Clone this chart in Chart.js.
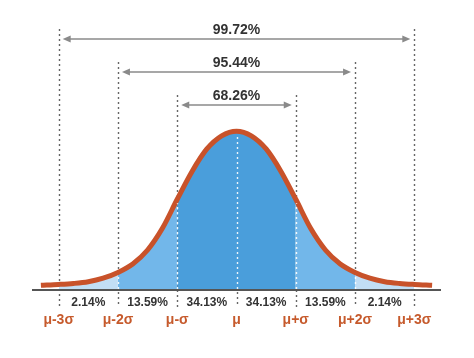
<!DOCTYPE html>
<html><head><meta charset="utf-8">
<script src="https://cdn.jsdelivr.net/npm/chart.js@4"></script>
<style>html,body{margin:0;padding:0;background:#fff}</style>
</head><body>
<canvas id="c" width="474" height="358"></canvas>
<script>
// ---- data ----
const sigmaPositions = [-3, -2, -1, 0, 1, 2, 3];
const sigmaLabels = ['μ-3σ', 'μ-2σ', 'μ-σ', 'μ', 'μ+σ', 'μ+2σ', 'μ+3σ'];
const bandPercents = ['2.14%', '13.59%', '34.13%', '34.13%', '13.59%', '2.14%'];
const spanSigmas = [3, 2, 1];
const spanLabels = ['99.72%', '95.44%', '68.26%'];
const curveX = [-3.3, -3, -2.75, -2.5, -2.25, -2, -1.75, -1.5, -1.25, -1, -0.75, -0.5, -0.25, 0,
                0.25, 0.5, 0.75, 1, 1.25, 1.5, 1.75, 2, 2.25, 2.5, 2.75, 3, 3.3];
const curveHeights = [0.1, 0.3, 0.55, 1.0, 1.9, 3.4, 5.6, 9.2, 14.8, 22.3, 29.5, 35.3, 38.7, 39.9,
                      38.7, 35.3, 29.5, 22.3, 14.8, 9.2, 5.6, 3.4, 1.9, 1.0, 0.55, 0.3, 0.1];
const bandRanges = [[-3, -2], [-2, -1], [-1, 1], [1, 2], [2, 3]];

// ---- build ----
const curvePts = curveX.map((x, i) => ({x, y: curveHeights[i]}));
function bandColor(lo, hi) {
  const d = Math.max(Math.abs(lo), Math.abs(hi));
  if (d <= 1) return '#4a9edb';
  if (d <= 2) return '#72b7ea';
  return '#c2def5';
}
const datasets = [{
  data: curvePts, borderColor: '#c8522a', borderWidth: 5, pointRadius: 0,
  fill: false, cubicInterpolationMode: 'monotone', borderCapStyle: 'butt', clip: false
}];
bandRanges.forEach(([lo, hi]) => {
  datasets.push({
    data: curvePts.filter(p => p.x >= lo - 1e-9 && p.x <= hi + 1e-9),
    borderWidth: 0, borderColor: 'rgba(0,0,0,0)', pointRadius: 0,
    backgroundColor: bandColor(lo, hi), fill: 'start', cubicInterpolationMode: 'monotone'
  });
});

function heightAt(s) { const i = curveX.indexOf(s); return curveHeights[i]; }

const ARROW_Y = {3: 39, 2: 72, 1: 105};
const FONT = '"Liberation Sans", Arial, sans-serif';

function arrow(ctx, x1, x2, y) {
  ctx.beginPath(); ctx.moveTo(x1 + 5, y); ctx.lineTo(x2 - 5, y); ctx.stroke();
  ctx.beginPath(); ctx.moveTo(x1, y); ctx.lineTo(x1 + 8, y - 3.5); ctx.lineTo(x1 + 8, y + 3.5); ctx.closePath(); ctx.fill();
  ctx.beginPath(); ctx.moveTo(x2, y); ctx.lineTo(x2 - 8, y - 3.5); ctx.lineTo(x2 - 8, y + 3.5); ctx.closePath(); ctx.fill();
}

const annot = {
  id: 'annot',
  beforeDatasetsDraw(chart) {
    const {ctx, scales: {x}, chartArea} = chart;
    ctx.save();
    ctx.strokeStyle = '#666'; ctx.lineWidth = 1.4; ctx.setLineDash([2, 3]);
    sigmaPositions.forEach(s => {
      const px = Math.round(x.getPixelForValue(s)) + 0.5;
      const top = s === 0 ? chartArea.bottom + 2 : ARROW_Y[Math.abs(s)] - 10;
      ctx.beginPath(); ctx.moveTo(px, top); ctx.lineTo(px, chartArea.bottom + 17); ctx.stroke();
    });
    ctx.restore();
  },
  afterDatasetsDraw(chart) {
    const {ctx, scales: {x, y}, chartArea} = chart;
    ctx.save();
    // white dotted lines inside the filled area
    ctx.strokeStyle = 'rgba(255,255,255,0.9)'; ctx.lineWidth = 1.4; ctx.setLineDash([2, 3]);
    sigmaPositions.forEach(s => {
      const px = Math.round(x.getPixelForValue(s)) + 0.5;
      const cy = y.getPixelForValue(heightAt(s)) + 4;
      if (cy < chartArea.bottom - 2) {
        ctx.beginPath(); ctx.moveTo(px, chartArea.bottom - 1); ctx.lineTo(px, cy); ctx.stroke();
      }
    });
    ctx.setLineDash([]);
    // axis
    ctx.strokeStyle = '#555'; ctx.lineWidth = 2;
    ctx.beginPath(); ctx.moveTo(chartArea.left, chartArea.bottom); ctx.lineTo(chartArea.right, chartArea.bottom); ctx.stroke();
    ctx.restore();
  },
  afterDraw(chart) {
    const {ctx, scales: {x}, chartArea} = chart;
    ctx.save();
    // spans
    ctx.strokeStyle = '#8a8a8a'; ctx.fillStyle = '#8a8a8a'; ctx.lineWidth = 1.6;
    spanSigmas.forEach((k, i) => {
      const yA = ARROW_Y[k];
      const x1 = x.getPixelForValue(-k) + 4, x2 = x.getPixelForValue(k) - 4;
      ctx.strokeStyle = '#8a8a8a'; ctx.fillStyle = '#8a8a8a';
      arrow(ctx, x1, x2, yA);
      ctx.fillStyle = '#333';
      ctx.font = 'bold 14px ' + FONT; ctx.textAlign = 'center'; ctx.textBaseline = 'middle';
      ctx.fillText(spanLabels[i], x.getPixelForValue(0), yA - 9);
    });
    // band percents
    ctx.fillStyle = '#333'; ctx.font = 'bold 12px ' + FONT;
    bandPercents.forEach((t, i) => {
      const c = (sigmaPositions[i] + sigmaPositions[i + 1]) / 2;
      ctx.fillText(t, x.getPixelForValue(c), chartArea.bottom + 13);
    });
    // sigma labels
    ctx.fillStyle = '#c65a2c'; ctx.font = 'bold 14px ' + FONT;
    sigmaPositions.forEach((s, i) => {
      ctx.fillText(sigmaLabels[i], x.getPixelForValue(s), chartArea.bottom + 30);
    });
    ctx.restore();
  }
};

new Chart(document.getElementById('c'), {
  type: 'line',
  data: {datasets},
  options: {
    responsive: false, devicePixelRatio: 1, animation: false,
    layout: {padding: {left: 32, right: 33, top: 10, bottom: 68}},
    scales: {
      x: {type: 'linear', min: -3.45, max: 3.45, display: false},
      y: {min: -1.14, max: 71.2, display: false}
    },
    plugins: {legend: {display: false}, tooltip: {enabled: false}}
  },
  plugins: [annot]
});
</script>
</body></html>
